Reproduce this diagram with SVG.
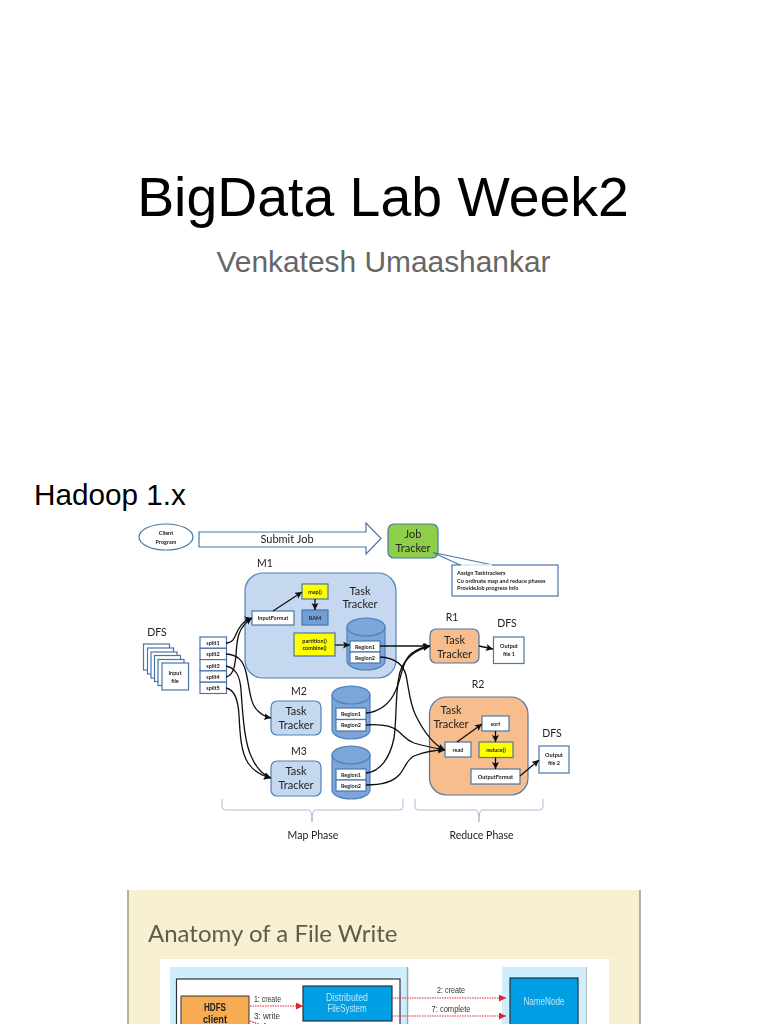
<svg xmlns="http://www.w3.org/2000/svg" width="768" height="1024" viewBox="0 0 768 1024">
<style>
text{font-family:"Liberation Sans",Arial,sans-serif;text-anchor:middle;fill:#000}
.d text{font-family:Lato,"Liberation Sans",sans-serif;fill:#222}
.s{font-size:5.5px;font-weight:700}
.m{font-size:11px}
.l{font-size:10.5px}
.b{stroke:#4a76a8;stroke-width:1.2}
.w{fill:#fff;stroke:#4a76a8;stroke-width:1.2}
.t{fill:#c5d8f0;stroke:#4f81bd;stroke-width:1.2}
.o{fill:#f8bd8c;stroke:#4f76a8;stroke-width:1.2}
.y{fill:#ff0;stroke:#4a76a8;stroke-width:1.2}
.c{fill:#7ba5d8;stroke:#4f81bd;stroke-width:1.2}
.line{fill:none;stroke:#111;stroke-width:1.3;marker-end:url(#a)}
.brace{fill:none;stroke:#a9bdd6;stroke-width:1}
.red{fill:none;stroke:#e8212c;stroke-width:1.2;stroke-dasharray:1.5 1;marker-end:url(#r)}
</style>
<defs>
<marker id="a" markerWidth="8" markerHeight="8" refX="7" refY="3.500" orient="auto" markerUnits="userSpaceOnUse"><path d="M0 0L7 3.500L0 7L1.500 3.500Z" fill="#111"/></marker>
<marker id="r" markerWidth="8" markerHeight="8" refX="7" refY="3.500" orient="auto" markerUnits="userSpaceOnUse"><path d="M0 0L7 3.500L0 7Z" fill="#e8212c"/></marker>
<filter id="soft" x="-2%" y="-2%" width="104%" height="104%"><feGaussianBlur stdDeviation="0.35"/></filter>
<filter id="soft2" x="-2%" y="-2%" width="104%" height="104%"><feGaussianBlur stdDeviation="0.6"/></filter>
</defs>
<rect width="768" height="1024" fill="#fff"/>
<g id="slide-text">
<text x="383" y="216" font-size="55.400">BigData Lab Week2</text>
<text x="383.500" y="272" font-size="29.900" style="fill:#666">Venkatesh Umaashankar</text>
<text x="110" y="505" font-size="29.700">Hadoop 1.x</text>
</g>
<g class="d" filter="url(#soft)">
<g id="client"><ellipse cx="166" cy="537" rx="27" ry="13" fill="#fff" class="b"/><text class="s" x="166" y="535">Client</text><text class="s" x="166" y="543.500">Program</text></g>
<g id="submit"><path d="M199 532H366V523L381 538.500L366 554V547H199Z" fill="#fff" class="b"/><text class="m" x="287" y="543">Submit Job</text></g>
<g id="job-tracker"><rect x="388" y="524" width="50" height="34" rx="6" fill="#8fce4a" class="b"/><text class="m" x="413" y="538">Job</text><text class="m" x="413" y="552">Tracker</text></g>
<g id="job-note"><path d="M433 552.500L460 565H493Z" fill="#fff" class="b"/><rect x="452" y="565" width="106" height="31" class="w"/><path d="M461 565H492" stroke="#fff" stroke-width="1.600"/>
<g class="s" style="font-size:5.600px"><text x="457" y="575" style="text-anchor:start">Assign Tasktrackers</text><text x="457" y="582.500" style="text-anchor:start">Co ordinate map and reduce phases</text><text x="457" y="590" style="text-anchor:start">ProvideJob progress info</text></g></g>
<g id="m1"><text class="l" x="265" y="567">M1</text><rect x="245" y="573" width="151" height="105" rx="18" class="t"/><text class="m" x="360" y="595">Task</text><text class="m" x="360" y="608">Tracker</text>
<rect x="252" y="611" width="42" height="14" class="w"/><text class="s" x="273" y="620">InputFormat</text>
<rect x="302" y="584" width="26" height="15" class="y"/><text class="s" x="315" y="594">map()</text>
<rect x="302" y="610" width="26" height="15" fill="#6f9fd8" class="b"/><text class="s" x="315" y="620">RAM</text>
<rect x="294" y="633" width="41" height="23" class="y"/><text class="s" x="314.500" y="643">partition()</text><text class="s" x="314.500" y="650">combine()</text>
<path d="M347 627V661A19 9 0 0 0 385 661V627Z" class="c"/><ellipse cx="366" cy="627" rx="19" ry="9" class="c"/>
<rect x="350" y="641" width="30" height="11" class="w"/><text class="s" x="365" y="648.500">Region1</text><rect x="350" y="652" width="30" height="11" class="w"/><text class="s" x="365" y="659.500">Region2</text></g>
<g id="dfs-input"><text class="l" x="157" y="636">DFS</text>
<rect x="143.500" y="644" width="26" height="26" class="w"/><rect x="147.500" y="648" width="26" height="26" class="w"/><rect x="151" y="652" width="26" height="26" class="w"/><rect x="154.500" y="655.500" width="26" height="26" class="w"/><rect x="158" y="659.500" width="26" height="26" class="w"/><rect x="162" y="663" width="26.500" height="27" class="w"/><text class="s" x="175" y="675">Input</text><text class="s" x="175" y="683">file</text></g>
<g id="splits"><rect x="200" y="637" width="26.500" height="11.300" class="w"/><rect x="200" y="648.300" width="26.500" height="11.300" class="w"/><rect x="200" y="659.600" width="26.500" height="11.300" class="w"/><rect x="200" y="670.900" width="26.500" height="11.300" class="w"/><rect x="200" y="682.200" width="26.500" height="11.300" class="w"/>
<text class="s" x="213" y="645">split1</text><text class="s" x="213" y="656">split2</text><text class="s" x="213" y="667.500">split3</text><text class="s" x="213" y="679">split4</text><text class="s" x="213" y="690">split5</text></g>
<g id="m2"><text class="l" x="299" y="695">M2</text><rect x="271" y="701" width="50" height="34" rx="6" class="t"/><text class="m" x="296" y="715">Task</text><text class="m" x="296" y="729">Tracker</text>
<path d="M332 695V730A19 9 0 0 0 370 730V695Z" class="c"/><ellipse cx="351" cy="695" rx="19" ry="9" class="c"/>
<rect x="336" y="708" width="30" height="11.500" class="w"/><text class="s" x="351" y="716">Region1</text><rect x="336" y="719.500" width="30" height="11.500" class="w"/><text class="s" x="351" y="727">Region2</text></g>
<g id="m3"><text class="l" x="299" y="755">M3</text><rect x="271" y="761" width="50" height="35" rx="6" class="t"/><text class="m" x="296" y="775">Task</text><text class="m" x="296" y="789">Tracker</text>
<path d="M332 755V790A19 9 0 0 0 370 790V755Z" class="c"/><ellipse cx="351" cy="755" rx="19" ry="9" class="c"/>
<rect x="336" y="769" width="30" height="11" class="w"/><text class="s" x="351" y="777">Region1</text><rect x="336" y="780" width="30" height="11" class="w"/><text class="s" x="351" y="788">Region2</text></g>
<g id="r1"><text class="l" x="452" y="621">R1</text><rect x="430" y="629" width="49" height="34" rx="6" class="o"/><text class="m" x="454.500" y="644">Task</text><text class="m" x="454.500" y="658">Tracker</text></g>
<g id="output1"><text class="l" x="507" y="627">DFS</text><rect x="493.500" y="637" width="30.500" height="26.500" class="w"/><text class="s" x="509" y="648">Output</text><text class="s" x="509" y="656">file 1</text></g>
<g id="r2"><text class="l" x="478" y="688">R2</text><rect x="429.500" y="697" width="98.500" height="98" rx="17" class="o"/><text class="m" x="451" y="714">Task</text><text class="m" x="451" y="728">Tracker</text>
<rect x="482" y="716" width="27" height="15" class="w"/><text class="s" x="495.500" y="726">sort</text>
<rect x="479" y="742" width="34" height="15.500" class="y"/><text class="s" x="496" y="752">reduce()</text>
<rect x="445" y="742" width="26" height="15" class="w"/><text class="s" x="458" y="752">read</text>
<rect x="471" y="769" width="49" height="15" class="w"/><text class="s" x="495.500" y="779">OutputFormat</text></g>
<g id="output2"><text class="l" x="552" y="737">DFS</text><rect x="539" y="746" width="30" height="27" class="w"/><text class="s" x="554" y="757">Output</text><text class="s" x="554" y="765">file 2</text></g>
<g id="phases"><path class="brace" d="M222 799V807Q222 810 226 810H309Q312 810 312 822Q312 810 315 810H399Q403 810 403 807V799"/><text class="l" x="313" y="839">Map Phase</text>
<path class="brace" d="M415 799V807Q415 810 419 810H476Q479 810 479 822Q479 810 482 810H539Q543 810 543 807V799"/><text class="l" x="481.500" y="839">Reduce Phase</text></g>
<g id="connectors">
<path class="line" d="M226 643C234 643 235 636 238 630C241 624 245 620 252 618"/>
<path class="line" d="M226 677C234 675 235 665 236 655C237 640 237 628 252 618"/>
<path class="line" d="M226 654C238 655 243 660 246 672C250 690 250 704 258 711C262 715 266 717 271 718"/>
<path class="line" d="M226 666C236 668 240 676 241 690C243 720 245 745 252 758C256 767 263 775 271 778"/>
<path class="line" d="M226 688C235 690 238 700 239 715C240 735 241 752 248 763C254 772 263 776 271 778"/>
<path class="line" d="M380 646H430"/>
<path class="line" d="M380 657C395 658 403 664 406 675C409 690 410 705 416 716C424 732 434 745 445 750"/>
<path class="line" d="M366 713C380 712 390 703 395 692C402 678 402 660 412 653C418 649 424 647 430 646"/>
<path class="line" d="M366 773C380 772 390 758 394 738C397 718 395 690 400 672C404 660 414 650 430 646"/>
<path class="line" d="M366 725C380 724 392 726 398 731C404 736 406 740 414 743C424 746 434 748 445 750"/>
<path class="line" d="M366 785C380 785 392 783 399 775C405 769 406 760 414 756C424 752 434 750 445 750"/>
<path class="line" d="M479 646L493 649"/>
<path class="line" d="M520 776L539 760"/>
<path class="line" d="M457 742L482 724"/>
<path class="line" d="M495.500 731V742"/>
<path class="line" d="M495.500 757.500V769"/>
<path class="line" d="M273 611L302 592"/>
<path class="line" d="M315 599V610"/>
<path class="line" d="M335 645H350"/>
</g>
</g>
<g id="file-write-photo" filter="url(#soft2)">
<rect x="128" y="890" width="512" height="140" fill="#f8f0d3"/>
<path d="M128 890V1030M640 890V1030" stroke="#8b8474" stroke-width="1.200"/>
<path d="M148 920H620M148 952H620" stroke="#f1e9cc" stroke-width="1"/>
<text x="148" y="942" font-size="24" style="font-family:Lato,sans-serif;text-anchor:start;fill:#625a4d">Anatomy of a File Write</text>
<rect x="160" y="959" width="449" height="71" fill="#fff"/>
<rect x="170" y="967" width="237" height="63" fill="#cdeefa"/>
<path d="M407.500 967V1030M586 967V1030" stroke="#9aa7ad" stroke-width="1.500"/>
<rect x="176.500" y="979" width="223.500" height="51" fill="#fff" stroke="#333" stroke-width="1.200"/>
<rect x="181" y="996" width="68" height="34" fill="#f7ac52" stroke="#333" stroke-width="1"/>
<text x="215" y="1011" font-size="11" textLength="22" lengthAdjust="spacingAndGlyphs" style="font-weight:700;fill:#222">HDFS</text>
<text x="215" y="1023" font-size="11" textLength="24" lengthAdjust="spacingAndGlyphs" style="font-weight:700;fill:#222">client</text>
<rect x="303" y="986" width="89" height="35" fill="#009fe3" stroke="#234" stroke-width="1.200"/>
<text x="347" y="1001" font-size="11" textLength="42" lengthAdjust="spacingAndGlyphs" style="fill:#bfe6fa">Distributed</text>
<text x="347" y="1012" font-size="11" textLength="39" lengthAdjust="spacingAndGlyphs" style="fill:#bfe6fa">FileSystem</text>
<rect x="502" y="967" width="84" height="63" fill="#cdeefa"/>
<rect x="510" y="978" width="68" height="52" fill="#009fe3" stroke="#234" stroke-width="1.200"/>
<text x="544" y="1005" font-size="10.500" textLength="41" lengthAdjust="spacingAndGlyphs" style="fill:#bfe6fa">NameNode</text>
<text x="267.500" y="1002" font-size="9.500" textLength="27" lengthAdjust="spacingAndGlyphs" style="fill:#333">1: create</text>
<text x="267" y="1019" font-size="9.500" textLength="26" lengthAdjust="spacingAndGlyphs" style="fill:#333">3: write</text>
<text x="451" y="993" font-size="9.500" textLength="28" lengthAdjust="spacingAndGlyphs" style="fill:#333">2: create</text>
<text x="451" y="1012" font-size="9.500" textLength="39" lengthAdjust="spacingAndGlyphs" style="fill:#333">7: complete</text>
<path class="red" d="M250 1006H303"/>
<path class="red" d="M392 998H506"/>
<path class="red" d="M392 1016H506"/>
<path class="red" d="M250 1021L270 1028"/>
</g>
</svg>
